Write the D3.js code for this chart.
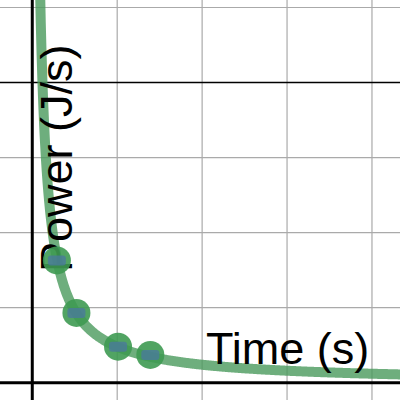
<!DOCTYPE html>
<html><head><meta charset="utf-8">
<script src="https://cdn.jsdelivr.net/npm/d3@7"></script>
<style>body{margin:0;background:#fff}</style>
</head><body><svg width="400" height="400"></svg>
<script>
// data (time in s, power in J/s)
var pointsT = [0.29, 0.52, 1.01, 1.39];
var pointsP = [1.63, 0.93, 0.48, 0.37];
var curveK = 0.48;
var gridX = [1, 2, 3, 4];
var gridY = [1, 2, 3, 5];
var lineY = 4;

var svg = d3.select("svg");
var x = d3.scaleLinear().domain([-0.38, 4.33]).range([0, 400]);
var y = d3.scaleLinear().domain([-0.23, 5.1]).range([400, 0]);

svg.append("g").selectAll("line").data(gridX).enter().append("line")
	.attr("x1", function(d){ return x(d); }).attr("x2", function(d){ return x(d); })
	.attr("y1", 0).attr("y2", 400).attr("stroke", "#aaa").attr("stroke-width", 1.2);
svg.append("g").selectAll("line").data(gridY).enter().append("line")
	.attr("y1", function(d){ return y(d); }).attr("y2", function(d){ return y(d); })
	.attr("x1", 0).attr("x2", 400).attr("stroke", "#aaa").attr("stroke-width", 1.2);

svg.append("line").attr("x1", 0).attr("x2", 400).attr("y1", y(lineY)).attr("y2", y(lineY))
	.attr("stroke", "#000").attr("stroke-width", 1.5);
svg.append("line").attr("x1", x(0)).attr("x2", x(0)).attr("y1", 0).attr("y2", 400)
	.attr("stroke", "#000").attr("stroke-width", 3);
svg.append("line").attr("x1", 0).attr("x2", 400).attr("y1", y(0)).attr("y2", y(0))
	.attr("stroke", "#000").attr("stroke-width", 3);

var ts = d3.range(0.09, 4.4, 0.01);
svg.append("path").datum(ts)
	.attr("d", d3.line().x(function(t){ return x(t); }).y(function(t){ return y(curveK / t); }))
	.attr("fill", "none").attr("stroke", "#4a9a5c").attr("stroke-opacity", 0.8)
	.attr("stroke-width", 10);

svg.append("text").attr("x", 206).attr("y", 364).attr("font-family", "Liberation Sans, Arial")
	.attr("font-size", 45).text("Time (s)");
svg.append("text").attr("transform", "translate(72,272) rotate(-90)")
	.attr("font-family", "Liberation Sans, Arial").attr("font-size", 45).text("Power (J/s)");

var pts = svg.append("g").selectAll("g").data(pointsT).enter().append("g")
	.attr("transform", function(d, i){ return "translate(" + x(d) + "," + y(pointsP[i]) + ")"; });
pts.append("circle").attr("r", 14).attr("fill", "#3e9a52").attr("fill-opacity", 0.9);
pts.append("rect").attr("x", -9).attr("y", -5).attr("width", 18).attr("height", 10).attr("rx", 3)
	.attr("fill", "#4a7a9a").attr("opacity", 0.8);
</script></body></html>
